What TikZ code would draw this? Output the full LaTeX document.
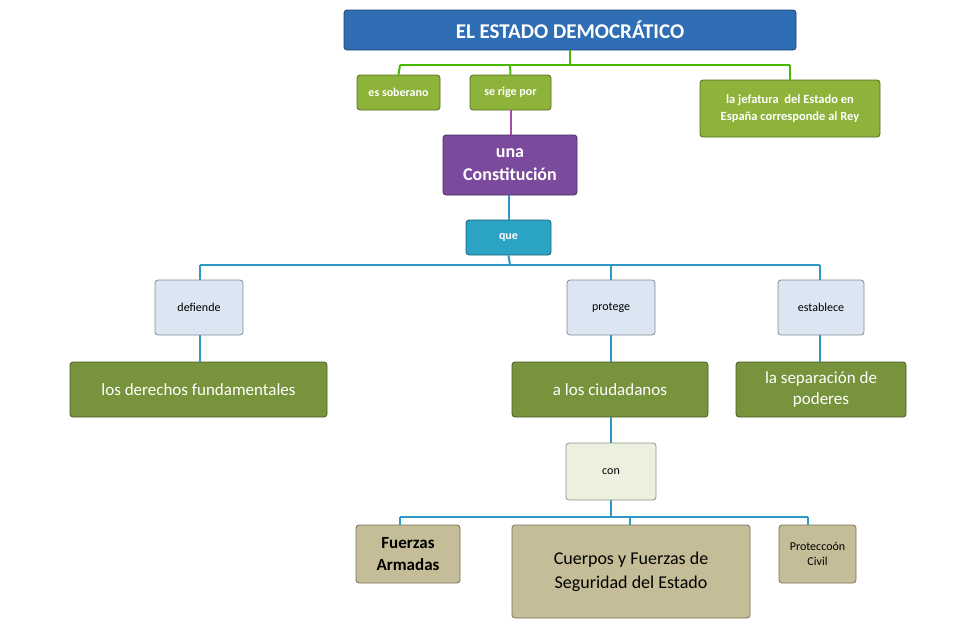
\documentclass[tikz,border=0pt]{standalone}
\usepackage{fontspec}
\setmainfont{Carlito}
\begin{document}
\begin{tikzpicture}[x=1pt,y=-1pt,
 box/.style={draw=#1!60!black,line width=0.8pt,rounded corners=3pt,fill=#1,align=center,inner sep=2pt},
 gl/.style={draw=green!45!olive,line width=2pt},
 tl/.style={draw=cyan!55!teal,line width=2pt},
 pl/.style={draw=violet!70,line width=2pt}]
\definecolor{cblue}{HTML}{2F6DB5}
\definecolor{cgreen}{HTML}{8DB33A}
\definecolor{cpurp}{HTML}{7C4A9C}
\definecolor{ccyan}{HTML}{2BA3C4}
\definecolor{clight}{HTML}{DCE6F2}
\definecolor{cdark}{HTML}{77933C}
\definecolor{cpale}{HTML}{EBF1DE}
\definecolor{ctan}{HTML}{C4BD97}
\useasboundingbox (0,0) rectangle (976,630);
\def\bx#1#2#3#4#5#6#7#8{\node[box=#6,minimum width=#3-#2,minimum height=#5-#4,font=#7] (#1) at ({(#2+#3)/2},{(#4+#5)/2}) {#8};}
\bx{t}{344}{796}{10}{50}{cblue}{\color{white}\fontsize{21}{25}\selectfont\bfseries}{EL ESTADO DEMOCRÁTICO}
\bx{es}{357}{440}{75}{110}{cgreen}{\color{white}\fontsize{12}{14}\selectfont\bfseries}{es soberano}
\bx{se}{470}{551}{75}{110}{cgreen}{\color{white}\fontsize{12}{14}\selectfont\bfseries}{se rige por}
\bx{je}{700}{880}{80}{137}{cgreen}{\color{white}\fontsize{12.5}{17}\selectfont\bfseries}{la jefatura \ del Estado en\\España corresponde al Rey}
\bx{co}{443}{577}{135}{195}{cpurp}{\color{white}\fontsize{18}{23}\selectfont\bfseries}{una\\Constitución}
\bx{qu}{466}{551}{220}{255}{ccyan}{\color{white}\fontsize{12}{14}\selectfont\bfseries}{que}
\bx{de}{155}{243}{280}{335}{clight}{\fontsize{12}{14}\selectfont}{defiende}
\bx{pr}{567}{655}{280}{335}{clight}{\fontsize{12}{14}\selectfont}{protege}
\bx{est}{778}{864}{280}{335}{clight}{\fontsize{12}{14}\selectfont}{establece}
\bx{dr}{70}{327}{362}{417}{cdark}{\color{white}\fontsize{17}{20}\selectfont}{los derechos fundamentales}
\bx{ci}{512}{708}{362}{417}{cdark}{\color{white}\fontsize{17}{20}\selectfont}{a los ciudadanos}
\bx{sp}{736}{906}{362}{417}{cdark}{\color{white}\fontsize{17}{21}\selectfont}{la separación de\\poderes}
\bx{cn}{566}{656}{443}{500}{cpale}{\fontsize{12}{14}\selectfont}{con}
\bx{fa}{356}{460}{525}{583}{ctan}{\fontsize{17}{22}\selectfont\bfseries}{Fuerzas\\Armadas}
\bx{cf}{512}{750}{525}{618}{ctan}{\fontsize{18}{24}\selectfont}{Cuerpos y Fuerzas de\\Seguridad del Estado}
\bx{pc}{779}{856}{525}{583}{ctan}{\fontsize{12}{15}\selectfont}{Proteccoón\\Civil}
\draw[gl] (t.south) -- (570,65);
\draw[gl] (400,65) -- (790,65);
\draw[gl] (400,65) -- (es.north);
\draw[gl] (510,65) -- (se.north);
\draw[gl] (790,65) -- (je.north);
\draw[pl] (se.south) -- (co.north -| se.south);
\draw[tl] (co.south -| qu.north) -- (qu.north);
\draw[tl] (qu.south) -- (510,265);
\draw[tl] (200,265) -- (820,265);
\draw[tl] (200,265) -- (200,280);
\draw[tl] (611,265) -- (pr.north);
\draw[tl] (820,265) -- (820,280);
\draw[tl] (200,335) -- (200,362);
\draw[tl] (pr.south) -- (ci.north -| pr.south);
\draw[tl] (820,335) -- (820,362);
\draw[tl] (ci.south -| cn.north) -- (cn.north);
\draw[tl] (cn.south) -- (611,517);
\draw[tl] (400,517) -- (808,517);
\draw[tl] (400,517) -- (400,525);
\draw[tl] (630,517) -- (630,525);
\draw[tl] (808,517) -- (808,525);
\end{tikzpicture}
\end{document}
